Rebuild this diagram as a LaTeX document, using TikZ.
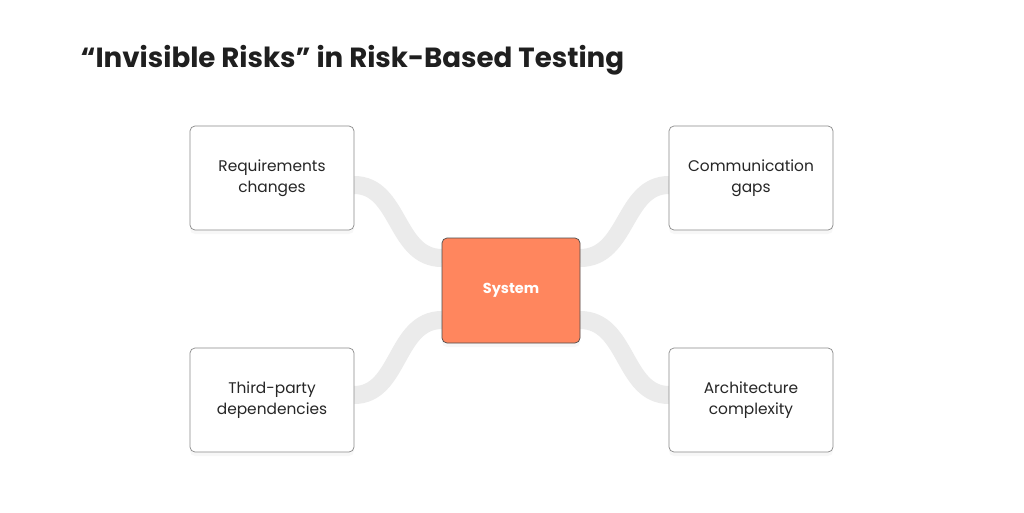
\documentclass[tikz,border=0pt]{standalone}
\usepackage{fontspec}
\setmainfont{Poppins}
\usetikzlibrary{positioning,shadows}
\definecolor{sysorange}{HTML}{FF865E}
\definecolor{linkgray}{HTML}{EBEBEB}
\definecolor{edgegray}{HTML}{8A8A8A}
\tikzset{
  riskbox/.style={draw=edgegray,fill=white,rounded corners=5pt,line width=0.7pt,
    minimum width=164pt,minimum height=104pt,align=center,font=\fontsize{15.4}{20.5}\selectfont,
    text=black!85,drop shadow={opacity=0.06,shadow xshift=0pt,shadow yshift=-4pt}},
  sysbox/.style={riskbox,fill=sysorange,draw=black!70,minimum width=138pt,
    minimum height=105pt,text=white,font=\fontsize{14.5}{19}\selectfont\bfseries},
  link/.style={draw=linkgray,line width=18pt}
}
\begin{document}
\begin{tikzpicture}[x=1pt,y=-1pt]
  \useasboundingbox[fill=white] (0,0) rectangle (1024,512);

  % title
  \node[anchor=west,font=\fontsize{27.7}{32}\selectfont\bfseries,text=black!88] (title) at (77,60)
    {“Invisible Risks” in Risk-Based Testing};

  % links (drawn first, under the boxes)
  \coordinate (sl1) at (442,258); \coordinate (sl2) at (442,320);
  \coordinate (sr1) at (580,258); \coordinate (sr2) at (580,320);
  \coordinate (rq) at (354,185); \coordinate (tp) at (354,395);
  \coordinate (cm) at (669,185); \coordinate (ar) at (669,395);
  \path[link] (rq) .. controls (400,185) and (395,258) .. (sl1);
  \path[link] (tp) .. controls (400,395) and (395,320) .. (sl2);
  \path[link] (cm) .. controls (623,185) and (628,258) .. (sr1);
  \path[link] (ar) .. controls (623,395) and (628,320) .. (sr2);

  % boxes
  \node[sysbox] (system) at (511,290.5) {System};
  \node[riskbox] (reqs) at (272,178) {Requirements\\changes};
  \node[riskbox] (third) at (272,400) {Third-party\\dependencies};
  \node[riskbox] (comm) at (751,178) {Communication\\gaps};
  \node[riskbox] (arch) at (751,400) {Architecture\\complexity};
\end{tikzpicture}
\end{document}
